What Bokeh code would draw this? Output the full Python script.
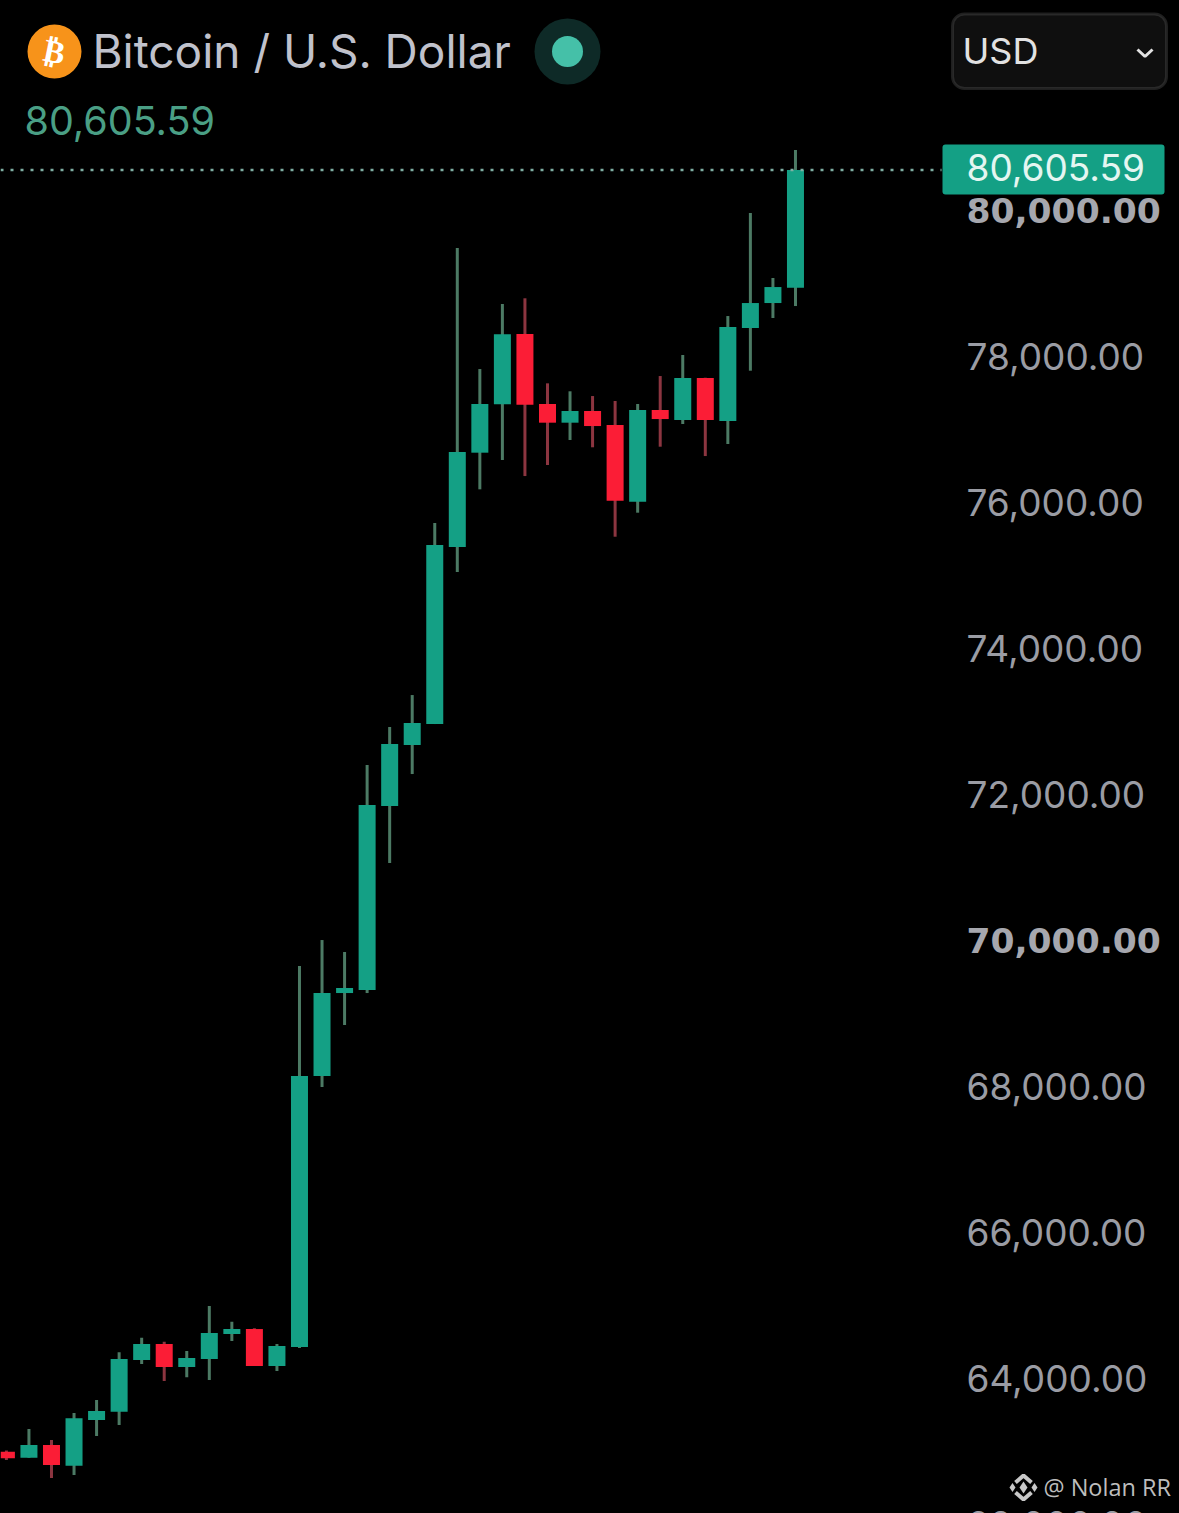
from bokeh.plotting import figure
from bokeh.models import Range1d, BoxAnnotation
from bokeh.core.properties import value
from bokeh.embed import file_html
from bokeh.resources import INLINE

W, H = 1179, 1513

opens  = [63048,62965,63140,62856,63482,63596,64304,64523,64208,64318,64660,64728,64222,64482,68194,69331,69372,71893,72729,73016,75441,76733,77396,78359,77400,77144,77304,77112,76061,77318,77181,77756,77167,78441,78783,78993]
closes = [62957,63140,62866,63505,63605,64318,64523,64208,64331,64674,64728,64222,64496,68194,69331,69400,71907,72742,73030,75468,76742,77400,78355,77390,77144,77304,77098,76075,77318,77194,77756,77181,78455,78783,79002,80605.59]
highs  = [63064,63359,63208,63578,63756,64409,64609,64554,64427,65044,64828,64738,64523,69701,70057,69893,72455,72975,73413,75770,79537,77879,78770,78848,77683,77574,77509,77441,77400,77783,78071,77760,78605,80016,79126,80879]
lows   = [62934,62965,62687,62729,63263,63414,64249,64016,64067,64030,64564,64222,64153,64468,68044,68893,69331,71112,72331,73016,75098,76231,76633,76413,76564,76907,76807,75582,75911,76815,77126,76687,76852,77856,78578,78742]
last_price = 80605.59
regular_ticks = [78000,76000,74000,72000,68000,66000,64000,62000]
regular_labels = ["78,000.00","76,000.00","74,000.00","72,000.00","68,000.00","66,000.00","64,000.00","62,000.00"]
bold_ticks = [80000,70000]
bold_labels = ["80,000.00","70,000.00"]

# price / slot scales
PX_PER_SLOT = 22.545
PX_PER_USD = 0.073
X0 = 5.9
Y80K = 213.7
xr = Range1d(-X0 / PX_PER_SLOT, (W - X0) / PX_PER_SLOT)
yr = Range1d(80000 - (H - Y80K) / PX_PER_USD, 80000 + Y80K / PX_PER_USD)

def X(px):
    return (px - X0) / PX_PER_SLOT

def Y(py):
    return 80000 + (Y80K - py) / PX_PER_USD

p = figure(width=W, height=H, x_range=xr, y_range=yr, output_backend="svg",
           toolbar_location=None, min_border=0, background_fill_color="#000000",
           border_fill_color="#000000", outline_line_color=None)
p.axis.visible = False
p.grid.visible = False

GREEN, RED = "#14a085", "#fb1d36"
WICK_G, WICK_R = "#4c7a64", "#8c3540"
idx = list(range(len(opens)))
up = [c >= o for o, c in zip(opens, closes)]

p.segment(idx, highs, idx, lows, line_width=3,
          line_color=[WICK_G if u else WICK_R for u in up])
p.vbar(idx, width=17 / PX_PER_SLOT, bottom=[min(o, c) for o, c in zip(opens, closes)],
       top=[max(o, c) for o, c in zip(opens, closes)],
       fill_color=[GREEN if u else RED for u in up], line_color=None)

# last-price line and tag
p.line([X(0), X(941)], [last_price, last_price], line_color="#7fb0a4", line_width=2.5, line_dash="3 7")
p.add_layout(BoxAnnotation(left=X(942), right=X(1164), top=Y(144), bottom=Y(194), level="underlay",
                           fill_color=GREEN, fill_alpha=1, line_color=None, border_radius=3))
TXT = "#9a9ca4"
p.text([X(966)] * len(regular_ticks), regular_ticks, text=regular_labels, y_offset=-4,
       text_font=value("Inter"), text_font_size="37px", text_color=TXT, text_baseline="middle")
p.text([X(966)] * len(bold_ticks), bold_ticks, text=bold_labels, y_offset=-4,
       text_font=value("DejaVu Sans"), text_font_style="bold", text_font_size="34.5px",
       text_color="#a6a7ae", text_baseline="middle")
p.text([X(966)], [Y(166.5)], text=["80,605.59"], text_font=value("Inter"), text_font_size="37px",
       text_color="#e4f6f1", text_baseline="middle")

# header
p.circle([X(54)], [Y(51)], radius=27 / PX_PER_SLOT, fill_color="#f7931a", line_color=None)
p.text([X(54)], [Y(51)], text=["₿"], text_font=value("DejaVu Sans"), text_font_style="bold",
       text_font_size="32px", text_color="#ffffff", text_align="center", text_baseline="middle", angle=-0.2)
p.text([X(92)], [Y(50)], text=["Bitcoin / U.S. Dollar"], text_font=value("Inter"), text_font_size="46px",
       text_color="#c0c2cc", text_baseline="middle")
p.text([X(24)], [Y(120)], text=["80,605.59"], text_font=value("Inter"), text_font_size="39.5px",
       text_color="#4a9f85", text_baseline="middle")
p.circle([X(567)], [Y(51)], radius=33 / PX_PER_SLOT, fill_color="#0e2a27", line_color=None)
p.circle([X(567)], [Y(51)], radius=15.5 / PX_PER_SLOT, fill_color="#45c0a8", line_color=None)

# currency selector
p.add_layout(BoxAnnotation(left=X(952), right=X(1166), top=Y(13.5), bottom=Y(88), level="underlay", fill_color="#0f0f0f",
                           fill_alpha=1, line_color="#666666", line_width=3, border_radius=12))
p.text([X(962)], [Y(50)], text=["USD"], text_font=value("Inter"), text_font_size="36px",
       text_color="#e2e2e2", text_baseline="middle")
p.line([X(1137), X(1144.5), X(1152)], [Y(49), Y(56), Y(49)], line_color="#e2e2e2", line_width=3)

# watermark
p.text([X(1043)], [Y(1486)], text=["@ Nolan RR"], text_font=value("Open Sans"), text_font_size="23.5px",
       text_color="#bdbdbd", text_baseline="middle")
LOGO = "#c8c8c8"
p.scatter([X(1012), X(1023), X(1034)], [Y(1487)] * 3, marker="diamond", size=[9, 12, 9], fill_color=LOGO, line_color=None)
p.line([X(1015), X(1023), X(1031)], [Y(1482), Y(1475), Y(1482)], line_color=LOGO, line_width=4)
p.line([X(1015), X(1023), X(1031)], [Y(1492), Y(1499), Y(1492)], line_color=LOGO, line_width=4)

html = file_html(p, INLINE)
html = html.replace("</head>", "<style>html,body{margin:0;padding:0;background:#000;overflow:hidden}</style></head>", 1)
open("out.html", "w").write(html)
